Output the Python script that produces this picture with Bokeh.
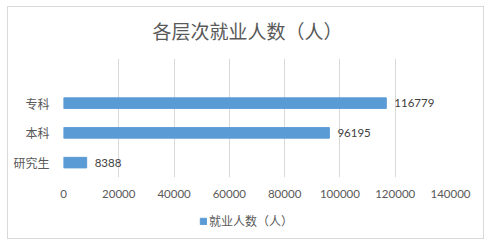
from bokeh.plotting import figure
from bokeh.layouts import column
from bokeh.models import Range1d, ColumnDataSource, Legend, LegendItem, FixedTicker, Title
from bokeh.core.properties import value
from bokeh.embed import file_html
from bokeh.resources import INLINE

categories = ["研究生", "本科", "专科"]
counts = [8388, 96195, 116779]
x_ticks = [0, 20000, 40000, 60000, 80000, 100000, 120000, 140000]
title_text = "各层次就业人数（人）"
series_name = "就业人数（人）"

CJK = "Noto Sans CJK SC"
NUM = "Lato"
GRAY = "#595959"
BAR = "#5b9bd5"

ypos = list(range(len(categories)))
src = ColumnDataSource(dict(y=ypos, v=counts, lbl=[str(c) for c in counts], cat=categories))

p = figure(width=494, height=205, output_backend="svg", toolbar_location=None,
           x_range=Range1d(0, 140000), y_range=Range1d(-0.5, 3.5),
           min_border_left=63, min_border_right=44, min_border_top=57, min_border_bottom=28)
p.outline_line_color = None
p.background_fill_color = "white"
p.border_fill_color = "white"

bars = p.hbar(y="y", right="v", left=0, height=0.355, color=BAR, source=src)
p.text(x="v", y="y", text="lbl", source=src, x_offset=8, text_baseline="middle",
       text_font=value(NUM), text_font_size="11.5px", text_color="#404040")

p.xaxis.ticker = FixedTicker(ticks=x_ticks)
p.xaxis.axis_line_color = None
p.xaxis.major_tick_line_color = None
p.xaxis.minor_tick_line_color = None
p.xaxis.major_label_text_font = NUM
p.xaxis.major_label_text_font_size = "11.5px"
p.xaxis.major_label_text_color = GRAY
p.xaxis.major_label_standoff = 6
p.xaxis.formatter.use_scientific = False

p.yaxis.ticker = FixedTicker(ticks=ypos)
p.yaxis.major_label_overrides = {i: c for i, c in zip(ypos, categories)}
p.yaxis.axis_line_color = None
p.yaxis.major_tick_line_color = None
p.yaxis.minor_tick_line_color = None
p.yaxis.major_label_text_font = CJK
p.yaxis.major_label_text_font_size = "12px"
p.yaxis.major_label_text_color = GRAY
p.yaxis.major_label_standoff = 8

p.xgrid.ticker = FixedTicker(ticks=x_ticks)
p.xgrid.grid_line_color = "#d9d9d9"
p.ygrid.grid_line_color = None

p.title = Title(text=title_text, align="left", offset=89, standoff=29,
                text_font=CJK, text_font_size="19px", text_color=GRAY, text_font_style="normal")

# legend strip below the chart (bars kept outside its visible range; only the key shows)
lg = figure(width=494, height=39, output_backend="svg", toolbar_location=None,
            x_axis_type=None, y_axis_type=None, x_range=Range1d(0, 140000), y_range=Range1d(10, 11),
            min_border_left=0, min_border_right=0, min_border_top=0, min_border_bottom=0)
lg.outline_line_color = None
lg.background_fill_color = "white"
lg.border_fill_color = "white"
lg.xgrid.grid_line_color = None
lg.ygrid.grid_line_color = None
key = lg.hbar(y="y", right="v", left=0, height=0.355, color=BAR, source=src)
legend = Legend(items=[LegendItem(label=series_name, renderers=[key])],
                location=(136, 15), orientation="horizontal",
                label_text_font=CJK, label_text_font_size="12px", label_text_color=GRAY,
                glyph_width=8, glyph_height=8, label_standoff=2, padding=0, margin=0,
                border_line_color=None, background_fill_alpha=0)
lg.add_layout(legend, "center")

layout = column(p, lg, spacing=0)

html = file_html(layout, INLINE)
border_css = ("<style>body::after{content:'';position:absolute;left:7px;top:6px;"
              "width:475px;height:231px;border:1px solid #d9d9d9;pointer-events:none;}</style>")
html = html.replace("</head>", border_css + "</head>", 1)
open("out.html", "w").write(html)
